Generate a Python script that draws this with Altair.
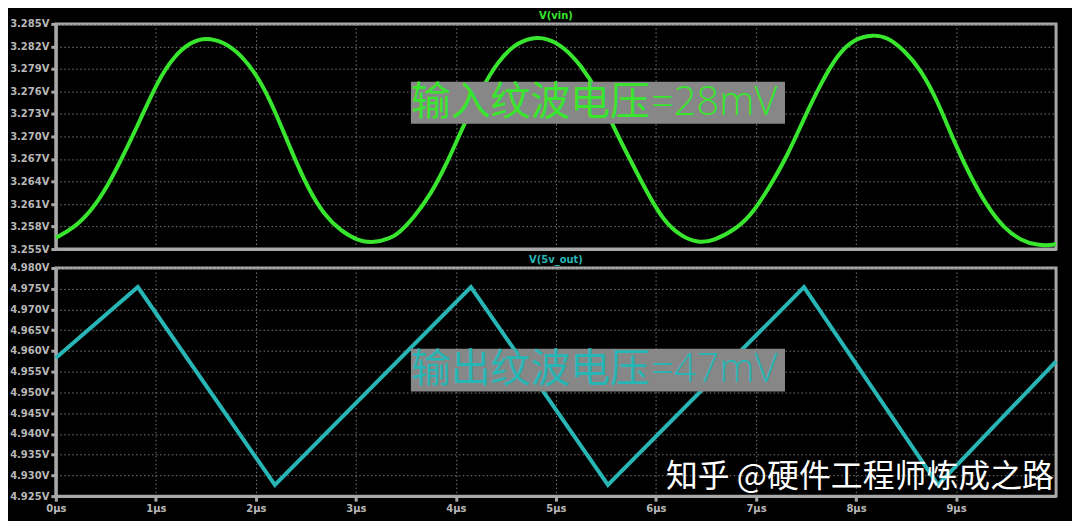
import altair as alt
import pandas as pd

# ---- data ----
top_t = [0, 0.18, 0.35, 0.52, 0.68, 0.85, 1.02, 1.18, 1.35, 1.50, 1.68, 1.85, 2.02, 2.18,
         2.35, 2.52, 2.68, 2.85, 3.02, 3.18, 3.35, 3.42, 3.58, 3.75, 3.92, 4.08, 4.25, 4.42,
         4.58, 4.75, 4.92, 5.08, 5.25, 5.42, 5.58, 5.75, 5.92, 6.08, 6.25, 6.42, 6.58, 6.82,
         6.98, 7.15, 7.32, 7.48, 7.65, 7.82, 7.98, 8.17, 8.32, 8.48, 8.65, 8.82, 8.98, 9.15,
         9.32, 9.48, 9.65, 9.82, 9.95, 10.0]
top_v = [3.2565, 3.2578, 3.2600, 3.2634, 3.2676, 3.2724, 3.2774, 3.2807, 3.2826, 3.2832,
         3.2826, 3.2809, 3.2780, 3.2738, 3.2682, 3.2631, 3.2596, 3.2574, 3.2561, 3.2558,
         3.2565, 3.2570, 3.2592, 3.2623, 3.2667, 3.2716, 3.2762, 3.2800, 3.2822, 3.2832,
         3.2831, 3.2819, 3.2795, 3.2760, 3.2711, 3.2667, 3.2623, 3.2587, 3.2567, 3.2558,
         3.2561, 3.2578, 3.2600, 3.2636, 3.2676, 3.2724, 3.2771, 3.2810, 3.2830, 3.2836,
         3.2832, 3.2815, 3.2789, 3.2746, 3.2693, 3.2645, 3.2605, 3.2578, 3.2561, 3.2555,
         3.2555, 3.2557]

bot_t = [0, 0.82, 2.19, 4.15, 5.52, 7.48, 8.82, 10.0]
bot_v = [4.9583, 4.9754, 4.9277, 4.9754, 4.9277, 4.9754, 4.9277, 4.9575]

top_ticks = [3.255, 3.258, 3.261, 3.264, 3.267, 3.270, 3.273, 3.276, 3.279, 3.282, 3.285]
bot_ticks = [4.925, 4.930, 4.935, 4.940, 4.945, 4.950, 4.955, 4.960, 4.965, 4.970, 4.975, 4.980]
x_ticks = [0, 1, 2, 3, 4, 5, 6, 7, 8, 9]

top_title = "V(vin)"
bot_title = "V(5v_out)"
top_label_parts = ["输入纹波电压", "=28mV"]
bot_label_parts = ["输出纹波电压", "=47mV"]
watermark = "知乎 @硬件工程师炼成之路"

# annotation boxes and label anchors (data coordinates)
top_box = {"t": [3.55], "t2": [7.29], "v": [3.2717], "v2": [3.2773]}
bot_box = {"t": [3.55], "t2": [7.29], "v": [4.9502], "v2": [4.9605]}
label_t = [3.55, 5.95]
top_label_v = 3.2745
bot_label_v = 4.9553
wm_pos = {"t": [6.1], "v": [4.9296]}

GREEN = "#38e62e"
TEAL = "#28b5b5"
BOXGRAY = "#878787"
FRAME = "#a8a8a8"

W = 1004
x_scale = alt.Scale(domain=[0, 10], nice=False)


def panel(t, v, color, yticks, ydomain, title, height, show_labels, box, lab_v, parts,
          interp, extra=None):
    xax = alt.Axis(values=x_ticks, labels=show_labels, ticks=show_labels, labelFlush=False,
                   labelExpr="datum.value + 'µs'", title=None)
    yax = alt.Axis(values=yticks, labelExpr="format(datum.value, '.3f') + 'V'", title=None)
    ysc = alt.Scale(domain=ydomain, nice=False, zero=False)
    X = alt.X("t:Q", scale=x_scale, axis=xax)
    Y = alt.Y("v:Q", scale=ysc, axis=yax)
    df = pd.DataFrame({"t": t, "v": v})
    line = alt.Chart(df).mark_line(color=color, strokeWidth=4, interpolate=interp).encode(x=X, y=Y)
    rect = alt.Chart(pd.DataFrame(box)).mark_rect(color=BOXGRAY).encode(x=X, x2="t2:Q", y=Y, y2="v2:Q")
    cjk = alt.Chart(pd.DataFrame({"t": [label_t[0]], "v": [lab_v], "label": [parts[0]]})).mark_text(
        align="left", baseline="middle", fontSize=40, font="Noto Sans CJK SC", color=color
    ).encode(x=X, y=Y, text="label:N")
    lat = alt.Chart(pd.DataFrame({"t": [label_t[1]], "v": [lab_v], "label": [parts[1]]})).mark_text(
        align="left", baseline="middle", fontSize=40, font="Open Sans", fontWeight=300, color=color
    ).encode(x=X, y=Y, text="label:N")
    ttl = alt.Chart(pd.DataFrame({"label": [title]})).mark_text(
        align="center", baseline="middle", fontSize=10, font="DejaVu Sans", fontWeight="bold",
        color=color
    ).encode(x=alt.value(W / 2), y=alt.value(-8), text="label:N")
    layers = [line, rect, cjk, lat, ttl]
    if extra is not None:
        wd = pd.DataFrame(extra)
        wd["label"] = [watermark]
        wm = alt.Chart(wd).mark_text(align="left", baseline="middle", fontSize=32,
                                     font="Noto Sans CJK SC", color="white").encode(
            x=X, y=Y, text="label:N")
        layers.append(wm)
    return alt.layer(*layers).properties(width=W, height=height)


top = panel(top_t, top_v, GREEN, top_ticks, [3.255, 3.285], top_title, 226, False,
            top_box, top_label_v, top_label_parts, "basis")
bot = panel(bot_t, bot_v, TEAL, bot_ticks, [4.925, 4.980], bot_title, 229, True,
            bot_box, bot_label_v, bot_label_parts, "linear", extra=wm_pos)

chart = alt.vconcat(top, bot, spacing=-3).properties(
    background="#000000",
    padding={"left": 0, "top": 0, "right": 6, "bottom": 5},
).configure_view(
    fill="#000000", stroke=FRAME, strokeWidth=3
).configure_axis(
    domainColor=FRAME, domainWidth=3, tickColor=FRAME, tickWidth=3, tickSize=5,
    labelColor="#b8b8b8", labelFont="DejaVu Sans", labelFontWeight="bold", labelFontSize=10,
    labelPadding=2, gridColor="#7a7a7a", gridDash=[1.5, 2.5], gridWidth=1,
)

chart.save("out.html", embed_options={"renderer": "svg", "actions": False})
